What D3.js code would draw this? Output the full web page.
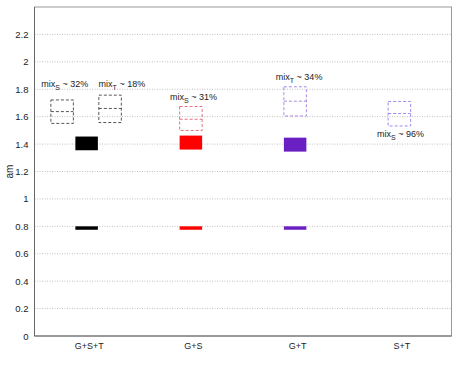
<!DOCTYPE html>
<html><head><meta charset="utf-8">
<script src="https://cdn.jsdelivr.net/npm/d3@7"></script>
<style>body{margin:0;background:#fff}svg{display:block}text{font-family:"Liberation Sans",Arial,sans-serif}</style>
</head><body><svg id="c" width="474" height="366"></svg>
<script>
const categories = ["G+S+T","G+S","G+T","S+T"];
const colors = ["#000000","#ff0000","#6a1fc2",null];
const dashColors = ["#555555","#e8707a","#a98ae0","#9a8cf0"];
// solid bars [low, high]
const upperBars = [[1.355,1.455],[1.36,1.462],[1.345,1.447],null];
const lowerBars = [[0.775,0.80],[0.775,0.80],[0.775,0.80],null];
// dashed boxes: category index, offset (in category units), bottom, mid, top
const dashBoxes = [
  {cat:0, off:-0.235, lo:1.551, mid:1.637, hi:1.722},
  {cat:0, off:0.225, lo:1.557, mid:1.66, hi:1.757},
  {cat:1, off:0, lo:1.499, mid:1.581, hi:1.674},
  {cat:2, off:0, lo:1.605, mid:1.713, hi:1.818},
  {cat:3, off:0, lo:1.532, mid:1.623, hi:1.711}
];
// annotations: base, sub, rest, anchor category index, x offset, y value
const notes = [
  {base:"mix", sub:"S", rest:" ~ 32%", cat:0, off:-0.435, y:1.82},
  {base:"mix", sub:"T", rest:" ~ 18%", cat:0, off:0.115, y:1.82},
  {base:"mix", sub:"S", rest:" ~ 31%", cat:1, off:-0.2, y:1.72},
  {base:"mix", sub:"T", rest:" ~ 34%", cat:2, off:-0.185, y:1.87},
  {base:"mix", sub:"S", rest:" ~ 96%", cat:3, off:-0.215, y:1.45}
];
const yTicks = [0,0.2,0.4,0.6,0.8,1,1.2,1.4,1.6,1.8,2,2.2];

const svg = d3.select("#c");
const L=34.5, R=451.5, T=7, B=336;
const x = d3.scaleLinear().domain([0.5,4.5]).range([L,R]);
const y = d3.scaleLinear().domain([0,2.4]).range([B,T]);
const bw = 22.5;

// grid
svg.append("g").selectAll("line").data(yTicks.filter(d=>d>0)).join("line")
  .attr("x1",L).attr("x2",R).attr("y1",d=>y(d)).attr("y2",d=>y(d))
  .attr("stroke","#b0b0b0").attr("stroke-width",0.8).attr("stroke-dasharray","1,1.5");

// frame
svg.append("rect").attr("x",L).attr("y",T).attr("width",R-L).attr("height",B-T)
  .attr("fill","none").attr("stroke","#999").attr("stroke-width",1);
svg.append("line").attr("x1",L).attr("x2",L).attr("y1",T).attr("y2",B).attr("stroke","#666");
svg.append("line").attr("x1",L).attr("x2",R).attr("y1",B).attr("y2",B).attr("stroke","#666");

// y axis
const ya = d3.axisLeft(y).tickValues(yTicks).tickSize(0).tickPadding(6).tickFormat(d3.format("~g"));
const yg = svg.append("g").attr("transform",`translate(${L},0)`).call(ya);
yg.select(".domain").remove();
yg.selectAll("text").attr("font-size",9.5).attr("fill","#222");

// x axis
const xa = d3.axisBottom(x).tickValues([1,2,3,4]).tickSize(0).tickPadding(7).tickFormat(d=>categories[d-1]);
const xg = svg.append("g").attr("transform",`translate(2,${B})`).call(xa);
xg.select(".domain").remove();
xg.selectAll("text").attr("font-size",9).attr("fill","#222");

// y label
svg.append("text").attr("transform",`translate(13,${(T+B)/2}) rotate(-90)`)
  .attr("text-anchor","middle").attr("font-size",10).attr("fill","#222").text("am");

// solid bars
[upperBars, lowerBars].forEach(arr=>{
  svg.append("g").selectAll("rect").data(arr.map((d,i)=>({d,i})).filter(o=>o.d)).join("rect")
    .attr("x",o=>x(o.i+1)-bw/2).attr("width",bw)
    .attr("y",o=>y(o.d[1])).attr("height",o=>y(o.d[0])-y(o.d[1]))
    .attr("fill",o=>colors[o.i]);
});

// dashed boxes
const dg = svg.append("g");
dashBoxes.forEach(b=>{
  const cx = x(b.cat+1+b.off);
  const c = dashColors[b.cat];
  dg.append("rect").attr("x",cx-bw/2).attr("width",bw).attr("y",y(b.hi)).attr("height",y(b.lo)-y(b.hi))
    .attr("fill","none").attr("stroke",c).attr("stroke-width",1).attr("stroke-dasharray","3,2");
  dg.append("line").attr("x1",cx-bw/2).attr("x2",cx+bw/2).attr("y1",y(b.mid)).attr("y2",y(b.mid))
    .attr("stroke",c).attr("stroke-width",1).attr("stroke-dasharray","3,2");
});

// notes
notes.forEach(n=>{
  const t = svg.append("text").attr("x",x(n.cat+1+n.off)).attr("y",y(n.y))
    .attr("font-size",9).attr("fill","#222");
  t.append("tspan").text(n.base);
  t.append("tspan").attr("font-size",7).attr("dy",3).text(n.sub);
  t.append("tspan").attr("dy",-3).text(n.rest);
});
</script></body></html>
